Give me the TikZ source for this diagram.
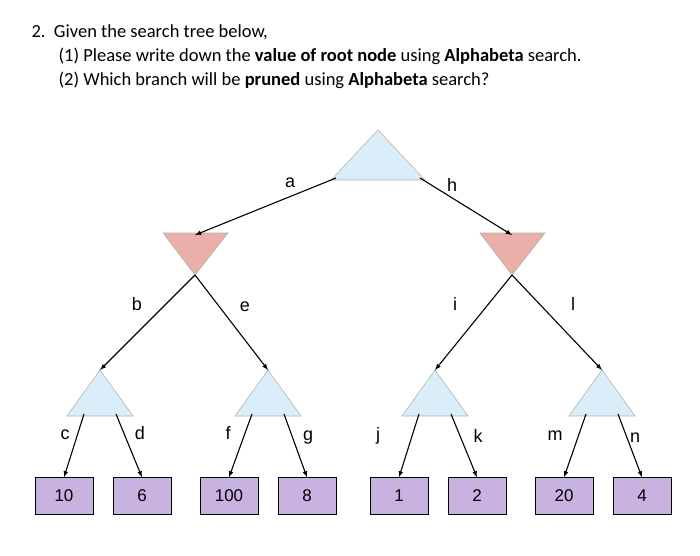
\documentclass[tikz,border=0pt]{standalone}
\usepackage{fontspec}
\setmainfont{Carlito}
\setsansfont{Liberation Sans}
\definecolor{mx}{HTML}{DAEEFA}
\definecolor{mn}{HTML}{E9AFA8}
\definecolor{lf}{HTML}{C8B2E0}
\begin{document}
\begin{tikzpicture}[x=1pt,y=-1pt,
  maxn/.style={fill=mx,draw=gray!60,line width=0.6pt},
  minn/.style={fill=mn,draw=gray!60,line width=0.6pt},
  leaf/.style={draw=black,fill=lf,minimum width=58pt,minimum height=37pt,inner sep=0pt,font=\sffamily\fontsize{17}{17}\selectfont},
  arr/.style={-latex,line width=1.1pt},
  lab/.style={font=\sffamily\fontsize{18}{18}\selectfont},
  hdr/.style={anchor=west,font=\fontsize{18.5}{20}\selectfont}]
\useasboundingbox (0,0) rectangle (700,555);
\node[hdr] (t1) at (28,32) {2.\ \ Given the search tree below,};
\node[hdr] (t2) at (55,56) {(1) Please write down the \textbf{value of root node} using \textbf{Alphabeta} search.};
\node[hdr] (t3) at (55,80) {(2) Which branch will be \textbf{pruned} using \textbf{Alphabeta} search?};
% triangles
\draw[maxn] (378,130) -- (425,180) -- (331,180) -- cycle;
\draw[minn] (163,233) -- (228,233) -- (195,275) -- cycle;
\draw[minn] (480,233) -- (545,233) -- (512,275) -- cycle;
\foreach \cx in {100,268,435,602}{\draw[maxn] (\cx,370) -- (\cx+33,416) -- (\cx-33,416) -- cycle;}
\coordinate (rl) at (336,178); \coordinate (rr) at (420,178);
\coordinate (m1) at (195,235); \coordinate (m2) at (512,235);
\coordinate (m1b) at (195,275); \coordinate (m2b) at (512,275);
\coordinate (x1) at (100,370); \coordinate (x2) at (268,370);
\coordinate (x3) at (435,370); \coordinate (x4) at (602,370);
\coordinate (x1l) at (84,414); \coordinate (x1r) at (116,414);
\coordinate (x2l) at (252,414); \coordinate (x2r) at (284,414);
\coordinate (x3l) at (419,414); \coordinate (x3r) at (451,414);
\coordinate (x4l) at (586,414); \coordinate (x4r) at (618,414);
% leaves
\node[leaf] (l1) at (64,496) {10};
\node[leaf] (l2) at (142,496) {6};
\node[leaf] (l3) at (229,496) {100};
\node[leaf] (l4) at (307,496) {8};
\node[leaf] (l5) at (399,496) {1};
\node[leaf] (l6) at (477,496) {2};
\node[leaf] (l7) at (564,496) {20};
\node[leaf] (l8) at (642,496) {4};
% edges
\draw[arr] (rl) -- (m1);
\draw[arr] (rr) -- (m2);
\draw[arr] (m1b) -- (x1);
\draw[arr] (m1b) -- (x2);
\draw[arr] (m2b) -- (x3);
\draw[arr] (m2b) -- (x4);
\draw[arr] (x1l) -- (l1.north); \draw[arr] (x1r) -- (l2.north);
\draw[arr] (x2l) -- (l3.north); \draw[arr] (x2r) -- (l4.north);
\draw[arr] (x3l) -- (l5.north); \draw[arr] (x3r) -- (l6.north);
\draw[arr] (x4l) -- (l7.north); \draw[arr] (x4r) -- (l8.north);
% labels
\node[lab] (la) at (290,183) {a};
\node[lab] (lh) at (452,185) {h};
\node[lab] (lb) at (137,304) {b};
\node[lab] (le) at (245,307) {e};
\node[lab] (li) at (455,304) {i};
\node[lab] (ll) at (573,304) {l};
\node[lab] (lc) at (65,435) {c};
\node[lab] (ld) at (140,433) {d};
\node[lab] (lf) at (228,433) {f};
\node[lab] (lg) at (308,438) {g};
\node[lab] (lj) at (378,436) {j};
\node[lab] (lk) at (478,436) {k};
\node[lab] (lm) at (555,436) {m};
\node[lab] (ln) at (635,438) {n};
\end{tikzpicture}
\end{document}
